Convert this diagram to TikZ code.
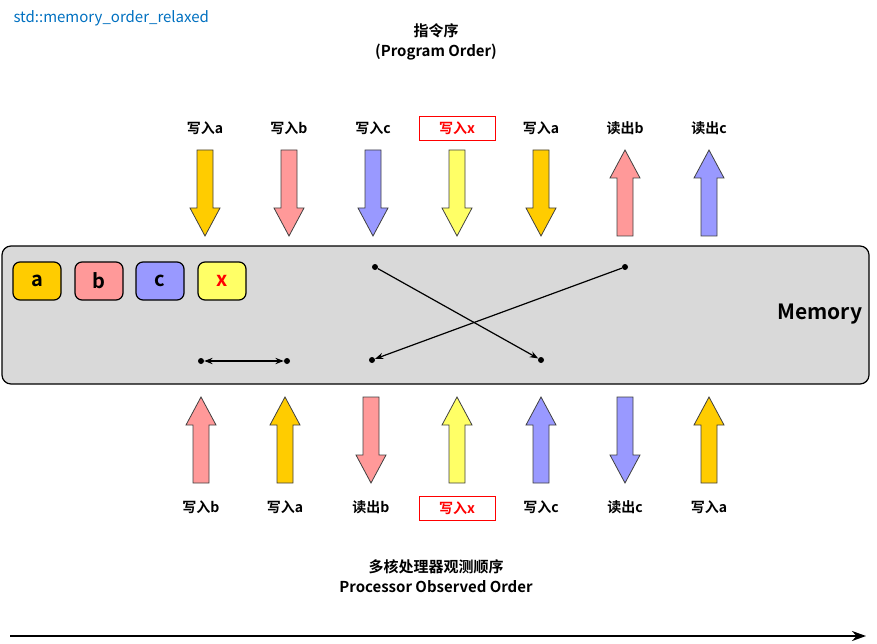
\documentclass[tikz,border=0pt]{standalone}
\usepackage{fontspec}
\setmainfont{Noto Sans CJK SC}[BoldFont={* Bold}]
\usepackage{tikz}
\usetikzlibrary{arrows.meta}
\definecolor{ca}{HTML}{FFCC00}
\definecolor{cb}{HTML}{FF9999}
\definecolor{cc}{HTML}{9999FF}
\definecolor{cx}{HTML}{FFFF66}
\definecolor{membg}{HTML}{D9D9D9}
\definecolor{ttl}{HTML}{0070C0}
\begin{document}
\begin{tikzpicture}[x=1pt,y=-1pt,>=Stealth,
		lbl/.style={font=\fontsize{14}{16}\selectfont\bfseries},
		redlbl/.style={lbl,text=red,draw=red,minimum width=76,minimum height=24,inner sep=1pt},
		cell/.style={rectangle,rounded corners=7,draw=black,line width=1.2pt,minimum width=48,minimum height=38,font=\fontsize{20}{22}\selectfont\bfseries},
		dot/.style={circle,fill=black,inner sep=0pt,minimum size=6pt},
		bigarrow/.pic={\draw[draw=black!75,line width=0.8pt,fill=#1] (-8,0) -- (-8,-58) -- (-15,-58) -- (0,-86) -- (15,-58) -- (8,-58) -- (8,0) -- cycle;}]
		\useasboundingbox (0,0) rectangle (877,644);
		\node[font=\fontsize{15}{17}\selectfont,text=ttl,anchor=west] (title) at (10,18) {std::memory\_order\_relaxed};
		\node[font=\fontsize{15}{20}\selectfont\bfseries,align=center] (prog) at (436,42) {指令序\\(Program Order)};
		\node[font=\fontsize{15}{20}\selectfont\bfseries,align=center] (obs) at (436,576) {多核处理器观测顺序\\Processor Observed Order};
		% memory block
		\node[draw=black,line width=1.2pt,fill=membg,rounded corners=9,minimum width=867,minimum height=138] (mem) at (435.5,315) {};
		\node[font=\fontsize{21}{24}\selectfont\bfseries,anchor=east] (memlbl) at (866,314) {Memory};
		\node[cell,fill=ca] (va) at (37,281) {a};
		\node[cell,fill=cb] (vb) at (99,281) {b};
		\node[cell,fill=cc] (vc) at (160,281) {c};
		\node[cell,fill=cx,text=red] (vx) at (222,281) {x};
		% program order, top row
		\foreach \x/\c/\d in {205/ca/1,289/cb/1,373/cc/1,457/cx/1,541/ca/1,625/cb/-1,709/cc/-1}{
			\ifnum\d=1 \pic at (\x,150) [yscale=-1] {bigarrow=\c};
			\else \pic at (\x,236) {bigarrow=\c}; \fi
		}
		\node[lbl] (t1) at (205,128) {写入a};
		\node[lbl] (t2) at (289,128) {写入b};
		\node[lbl] (t3) at (373,128) {写入c};
		\node[redlbl] (t4) at (457,128) {写入x};
		\node[lbl] (t5) at (541,128) {写入a};
		\node[lbl] (t6) at (625,128) {读出b};
		\node[lbl] (t7) at (709,128) {读出c};
		% observed order, bottom row
		\foreach \x/\c/\d in {201/cb/-1,285/ca/-1,371/cb/1,457/cx/-1,541/cc/-1,625/cc/1,709/ca/-1}{
			\ifnum\d=1 \pic at (\x,397) [yscale=-1] {bigarrow=\c};
			\else \pic at (\x,483) {bigarrow=\c}; \fi
		}
		\node[lbl] (b1) at (201,507) {写入b};
		\node[lbl] (b2) at (285,507) {写入a};
		\node[lbl] (b3) at (371,507) {读出b};
		\node[redlbl] (b4) at (457,508) {写入x};
		\node[lbl] (b5) at (541,507) {写入c};
		\node[lbl] (b6) at (625,507) {读出c};
		\node[lbl] (b7) at (709,507) {写入a};
		% reorderings
		\node[dot] (p1) at (375,267) {};
		\node[dot] (p2) at (541,360) {};
		\node[dot] (p3) at (625,267) {};
		\node[dot] (p4) at (372,360) {};
		\node[dot] (p5) at (201,361) {};
		\node[dot] (p6) at (287,361) {};
		\draw[line width=1.2pt,->] (p1) -- (p2);
		\draw[line width=1.2pt,->] (p3) -- (p4);
		\draw[line width=1.2pt,<->] (p5) -- (p6);
		% time axis
		\coordinate (tl) at (10,636);
		\coordinate (tr) at (866,636);
		\draw[line width=2.5pt,-{Stealth[length=14pt,width=10pt]}] (tl) -- (tr);
\end{tikzpicture}
\end{document}
